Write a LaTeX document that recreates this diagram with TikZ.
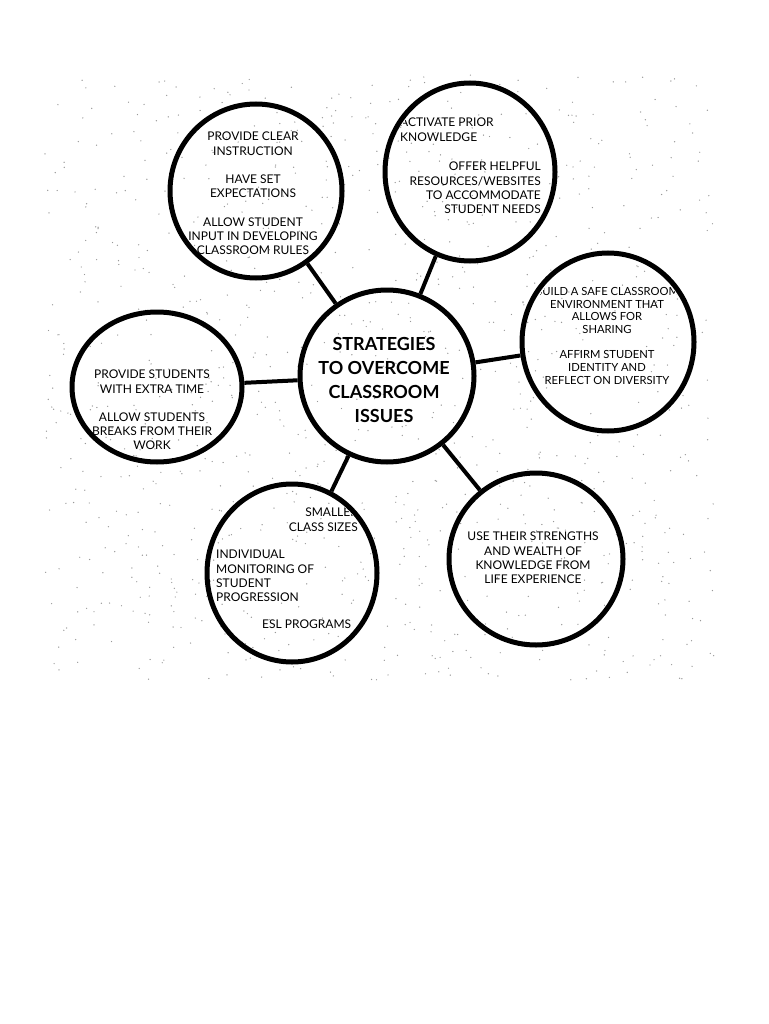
\documentclass[tikz,border=0pt]{standalone}
\usepackage{fontspec}
\setmainfont{Lato}
\usetikzlibrary{shapes.geometric}
\begin{document}
\begin{tikzpicture}[x=1pt,y=-1pt,
  bub/.style={ellipse, draw=black, line width=5pt, inner sep=0pt},
  link/.style={draw=black, line width=4pt},
  txt/.style={inner sep=0pt, text=black, font=\fontsize{12}{14.2}\selectfont},
  txts/.style={inner sep=0pt, text=black, font=\fontsize{11.2}{12.7}\selectfont},
  title/.style={inner sep=0pt, text=black, font=\bfseries\fontsize{18}{24}\selectfont, align=center},
  speck/.style={fill=black!40}]
\useasboundingbox (0,0) rectangle (768,1024);
% speckled background
\pgfmathsetseed{7}
\foreach \i in {1,...,1100}{%
  \pgfmathsetmacro\px{45+670*rnd}%
  \pgfmathsetmacro\py{75+605*rnd}%
  \fill[speck] (\px,\py) circle (0.7);}
% bubbles
\node[bub, minimum width=174pt, minimum height=172pt] (c)  at (387,376) {};
\node[bub, minimum width=172pt, minimum height=174pt] (tl) at (256,191) {};
\node[bub, minimum width=170pt, minimum height=178pt] (tr) at (470,172) {};
\node[bub, minimum width=172pt, minimum height=178pt] (r)  at (608,342) {};
\node[bub, minimum width=170pt, minimum height=150pt] (l)  at (157,387) {};
\node[bub, minimum width=170pt, minimum height=178pt] (bl) at (292,573) {};
\node[bub, minimum width=174pt, minimum height=172pt] (br) at (536,559) {};
% connectors
\draw[link] (c) -- (tl);
\draw[link] (c) -- (tr);
\draw[link] (c) -- (r);
\draw[link] (c) -- (l);
\draw[link] (c) -- (bl);
\draw[link] (c) -- (br);
% texts
\node[title, anchor=north] (tc) at (384,337) {STRATEGIES\\TO OVERCOME\\CLASSROOM\\ISSUES};
\begin{scope}
  \clip (256,191) ellipse (85.5 and 86);
  \node[txt, align=center, anchor=north] (ttl) at (253,132)
    {PROVIDE CLEAR\\INSTRUCTION\\[14.2pt]HAVE SET\\EXPECTATIONS\\[14.2pt]ALLOW STUDENT\\INPUT IN DEVELOPING\\CLASSROOM RULES};
\end{scope}
\begin{scope}
  \clip (470,172) ellipse (82 and 86);
  \node[txt, align=left, anchor=north west] (ttr1) at (400,118) {ACTIVATE PRIOR\\KNOWLEDGE};
  \node[txt, align=right, anchor=north east] (ttr2) at (541,162) {OFFER HELPFUL\\RESOURCES/WEBSITES\\TO ACCOMMODATE\\STUDENT NEEDS};
\end{scope}
\begin{scope}
  \clip (608,342) ellipse (82 and 86);
  \node[txts, align=center, anchor=north] (tr1) at (607,287)
    {BUILD A SAFE CLASSROOM\\ENVIRONMENT THAT\\ALLOWS FOR\\SHARING\\[12.7pt]AFFIRM STUDENT\\IDENTITY AND\\REFLECT ON DIVERSITY};
\end{scope}
\begin{scope}
  \clip (157,387) ellipse (84.5 and 74);
  \node[txt, align=center, anchor=north] (tl1) at (152,370)
    {PROVIDE STUDENTS\\WITH EXTRA TIME\\[14.2pt]ALLOW STUDENTS\\BREAKS FROM THEIR\\WORK};
\end{scope}
\begin{scope}
  \clip (292,573) ellipse (82 and 86);
  \node[txt, align=right, anchor=north east] (tb1) at (358,508) {SMALLER\\CLASS SIZES};
  \node[txt, align=left, anchor=north west] (tb2) at (216,550) {INDIVIDUAL\\MONITORING OF\\STUDENT\\PROGRESSION};
  \node[txt, anchor=north west] (tb3) at (262,620) {ESL PROGRAMS};
\end{scope}
\begin{scope}
  \clip (536,559) ellipse (84 and 83);
  \node[txt, align=center, anchor=north] (tbr) at (533,532)
    {USE THEIR STRENGTHS\\AND WEALTH OF\\KNOWLEDGE FROM\\LIFE EXPERIENCE};
\end{scope}
\end{tikzpicture}
\end{document}
